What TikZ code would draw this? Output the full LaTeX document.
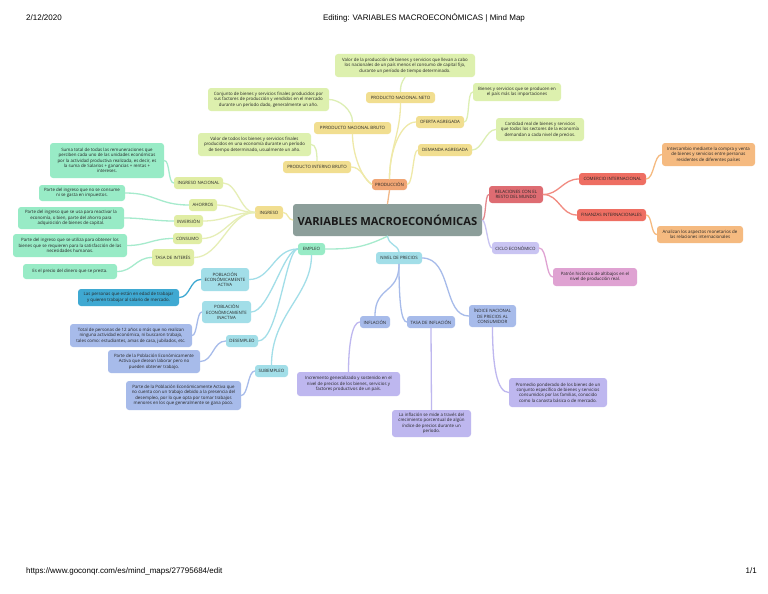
\documentclass[tikz,border=0pt]{standalone}
\usepackage{fontspec}
\setmainfont{Open Sans}
\newfontfamily\hdfont{Liberation Sans}
\definecolor{cCentral}{HTML}{8C9E9A}
\definecolor{cProd}{HTML}{F0A574}
\definecolor{cYel}{HTML}{F1DE90}
\definecolor{cLime}{HTML}{DDF0AE}
\definecolor{cOrg}{HTML}{F5BA80}
\definecolor{cRedA}{HTML}{DE6C72}
\definecolor{cRedB}{HTML}{EE6E62}
\definecolor{cLil}{HTML}{C9C4F2}
\definecolor{cPink}{HTML}{DFA2D2}
\definecolor{cMint}{HTML}{98EBC6}
\definecolor{cLimeB}{HTML}{E0EDA4}
\definecolor{cCyan}{HTML}{A2DEE8}
\definecolor{cBlue}{HTML}{3FA9D2}
\definecolor{cPeri}{HTML}{A7BBEA}
\definecolor{cVio}{HTML}{BEB7EF}
\definecolor{lYel}{HTML}{EFE9A8}
\definecolor{lOrg}{HTML}{F2B888}
\definecolor{lLime}{HTML}{E6EEB6}
\definecolor{lMint}{HTML}{A6EBCD}
\definecolor{lLeaf}{HTML}{DDEFB4}
\tikzset{
  mapbox/.style={rounded corners=3pt,inner sep=0pt,align=center,text=black!85,
    font=\fontsize{4.4}{5.4}\selectfont},
  link/.style={line width=1.3pt,line cap=round},
  hdtext/.style={font=\hdfont\fontsize{8}{9}\selectfont,inner sep=0pt,text=black},
}
\newcommand{\bx}[7]{\node[mapbox,fill=#6,minimum width={(#4-#2)*1pt},minimum height={(#5-#3)*1pt}] (#1) at ({(#2+#4)/2},{(#3+#5)/2}) {#7};}
\begin{document}
\begin{tikzpicture}[x=1pt,y=-1pt]
\useasboundingbox (0,0) rectangle (768,594);
\fill[white] (0,0) rectangle (768,594);
% page furniture
\node[hdtext,anchor=west] (date) at (26,18) {2/12/2020};
\node[hdtext] (title) at (424,18) {Editing: VARIABLES MACROECONÓMICAS | Mind Map};
\node[hdtext,anchor=west] (url) at (26,571) {https://www.goconqr.com/es/mind\_maps/27795684/edit};
\node[hdtext,anchor=east] (pg) at (757,571) {1/1};
% nodes
\node[rounded corners=3pt,fill=cCentral,inner sep=0pt,minimum width=189pt,minimum height=32pt,font=\fontsize{11.2}{13}\selectfont\bfseries,text=black!90] (root) at (387.5,220) {VARIABLES MACROECONÓMICAS};
\bx{prod}{372}{179}{407}{190}{cProd}{PRODUCCIÓN}
\bx{pnn}{366}{92}{435}{103}{cYel}{PRODUCTO NACIONAL NETO}
\bx{pnnL}{335}{54}{475}{77}{cLime}{Valor de la producción de bienes y servicios que llevan a cabo\\los nacionales de un país menos el consumo de capital fijo,\\durante un período de tiempo determinado.}
\bx{pnb}{314}{122}{391}{134}{cYel}{PPRODUCTO NACIONAL BRUTO}
\bx{pnbL}{208}{88}{329}{111}{cLime}{Conjunto de bienes y servicios finales producidos por\\sus factores de producción y vendidos en el mercado\\durante un período dado, generalmente un año.}
\bx{pib}{283}{161}{351}{173}{cYel}{PRODUCTO INTERNO BRUTO}
\bx{pibL}{198}{133}{311}{156}{cLime}{Valor de todos los bienes y servicios finales\\producidos en una economía durante un período\\de tiempo determinado, usualmente un año.}
\bx{oa}{416}{116}{464}{128}{cYel}{OFERTA AGREGADA}
\bx{oaL}{473}{83}{561}{101}{cLime}{Bienes y servicios que se producen en\\el país más las importaciones}
\bx{da}{418}{144}{472}{156}{cYel}{DEMANDA AGREGADA}
\bx{daL}{496}{118}{584}{141}{cLime}{Cantidad real de bienes y servicios\\que todos los sectores de la economía\\demandan a cada nivel de precios.}
\bx{rel}{489}{186}{543}{203}{cRedA}{RELACIONES CON EL\\RESTO DEL MUNDO}
\bx{com}{579}{173}{646}{185}{cRedB}{COMERCIO INTERNACIONAL}
\bx{comL}{662}{143}{755}{166}{cOrg}{Intercambio mediante la compra y venta\\de bienes y servicios entre personas\\residentes de diferentes países}
\bx{fin}{577}{209}{646}{221}{cRedB}{FINANZAS INTERNACIONALES}
\bx{finL}{657}{226}{743}{243}{cOrg}{Analizan los aspectos monetarios de\\las relaciones internacionales}
\bx{cic}{492}{242}{539}{254}{cLil}{CICLO ECONÓMICO}
\bx{cicL}{553}{268}{637}{286}{cPink}{Patrón histórico de altibajos en el\\nivel de producción real.}
\bx{ing}{255}{206}{283}{219}{cYel}{INGRESO}
\bx{ingN}{174}{177}{223}{189}{cLimeB}{INGRESO NACIONAL}
\bx{aho}{189}{199}{217}{211}{cLimeB}{AHORROS}
\bx{inv}{174}{215}{203}{227}{cLimeB}{INVERSIÓN}
\bx{con}{173}{233}{202}{244}{cLimeB}{CONSUMO}
\bx{tas}{152}{249}{194}{266}{cLimeB}{TASA DE INTERÉS}
\bx{ingNL}{50}{143}{164}{178}{cMint}{Suma total de todas las remuneraciones que\\perciben cada uno de las unidades económicas\\por la actividad productiva realizada, es decir, es\\la suma de Salarios + ganancias + rentas +\\intereses.}
\bx{ahoL}{39}{185}{125}{201}{cMint}{Parte del ingreso que no se consume\\ni se gasta en impuestos.}
\bx{invL}{18}{207}{124}{229}{cMint}{Parte del ingreso que se usa para reactivar la\\economía, o bien, parte del ahorro para\\adquisición de bienes de capital.}
\bx{conL}{13}{234}{127}{257}{cMint}{Parte del ingreso que se utiliza para obtener los\\bienes que se requieren para la satisfacción de las\\necesidades humanas.}
\bx{tasL}{23}{264}{117}{279}{cMint}{Es el precio del dinero que se presta.}
\bx{emp}{298}{243}{325}{255}{cMint}{EMPLEO}
\bx{pea}{201}{268}{249}{291}{cCyan}{POBLACIÓN\\ECONÓMICAMENTE\\ACTIVA}
\bx{peaL}{78}{289}{179}{306}{cBlue}{Las personas que están en edad de trabajar\\y quieren trabajar al salario de mercado.}
\bx{pei}{202}{301}{251}{323}{cCyan}{POBLACIÓN\\ECONÓMICAMENTE\\INACTIVA}
\bx{peiL}{70}{324}{192}{347}{cPeri}{Total de personas de 12 años o más que no realizan\\ninguna actividad económica, ni buscaron trabajo,\\tales como: estudiantes, amas de casa, jubilados, etc.}
\bx{des}{226}{335}{258}{347}{cCyan}{DESEMPLEO}
\bx{desL}{108}{350}{200}{373}{cPeri}{Parte de la Población Económicamente\\Activa que desean laborar pero no\\pueden obtener trabajo.}
\bx{sub}{255}{365}{288}{377}{cCyan}{SUBEMPLEO}
\bx{subL}{126}{381}{241}{410}{cPeri}{Parte de la Población Económicamente Activa que\\no cuenta con un trabajo debido a la presencia del\\desempleo, por lo que opta por tomar trabajos\\menores en los que generalmente se gana poco.}
\bx{niv}{376}{252}{422}{264}{cCyan}{NIVEL DE PRECIOS}
\bx{inf}{360}{316}{390}{328}{cPeri}{INFLACIÓN}
\bx{infL}{297}{372}{400}{396}{cVio}{Incremento generalizado y sostenido en el\\nivel de precios de los bienes, servicios y\\factores productivos de un país.}
\bx{tin}{407}{316}{455}{328}{cPeri}{TASA DE INFLACIÓN}
\bx{tinL}{392}{410}{471}{437}{cVio}{La inflación se mide a través del\\crecimiento porcentual de algún\\índice de precios durante un\\período.}
\bx{ipc}{469}{305}{516}{327}{cPeri}{ÍNDICE NACIONAL\\DE PRECIOS AL\\CONSUMIDOR}
\bx{ipcL}{509}{378}{607}{407}{cVio}{Promedio ponderado de los bienes de un\\conjunto específico de bienes y servicios\\consumidos por las familias, conocido\\como la canasta básica o de mercado.}
% connectors: upper branch
\draw[link,lOrg] (root.north) -- (prod.south);
\draw[link,lYel] (prod.north) .. controls +(0,-30) and +(0,30) .. (pnn.south);
\draw[link,lLeaf] (pnn.north) .. controls +(0,-6) and +(-4,6) .. (pnnL.south);
\draw[link,lYel] (prod.west) .. controls +(-10,-6) and +(0,20) .. (pnb.south);
\draw[link,lYel] (pib.east) .. controls +(10,0) and +(-8,-6) .. (prod.west);
\draw[link,lLeaf] (pnb.north) .. controls +(0,-12) and +(10,0) .. (pnbL.east);
\draw[link,lLeaf] (pib.north) .. controls +(0,-8) and +(5,0) .. (pibL.east);
\draw[link,lYel] (prod.north) .. controls +(0,-30) and +(-14,0) .. (oa.west);
\draw[link,lYel] (prod.east) .. controls +(6,0) and +(-5,0) .. (da.west);
\draw[link,lLeaf] (oa.east) .. controls +(6,0) and +(-6,0) .. (oaL.west);
\draw[link,lLeaf] (da.east) .. controls +(10,0) and +(-10,0) .. (daL.west);
% right branch
\draw[link,cRedA!80!white] (root.east) .. controls +(4,0) and +(-4,0) .. (rel.west);
\draw[link,cRedB!80!white] (rel.east) .. controls +(16,0) and +(-16,0) .. (com.west);
\draw[link,cRedB!80!white] (rel.east) .. controls +(16,0) and +(-16,0) .. (fin.west);
\draw[link,cOrg] (com.east) .. controls +(8,0) and +(-8,0) .. (comL.west);
\draw[link,cOrg] (fin.east) .. controls +(6,0) and +(-6,0) .. (finL.west);
\draw[link,cLil] (root.east) .. controls +(4,0) and +(-4,0) .. (cic.west);
\draw[link,cPink] (cic.east) .. controls +(8,0) and +(-7,0) .. (cicL.west);
% left branch
\draw[link,lYel] (root.west) .. controls +(-5,0) and +(5,0) .. (ing.east);
\draw[link,lLime] (ing.west) .. controls +(-14,0) and +(14,0) .. (ingN.east);
\draw[link,lLime] (ing.west) .. controls +(-14,0) and +(14,0) .. (aho.east);
\draw[link,lLime] (ing.west) .. controls +(-22,0) and +(22,0) .. (inv.east);
\draw[link,lLime] (ing.west) .. controls +(-22,0) and +(22,0) .. (con.east);
\draw[link,lLime] (ing.west) .. controls +(-26,0) and +(26,0) .. (tas.east);
\draw[link,lMint] (ingN.west) .. controls +(-6,0) and +(6,0) .. (ingNL.east);
\draw[link,lMint] (aho.west) .. controls +(-30,0) and +(30,0) .. (ahoL.east);
\draw[link,lMint] (inv.west) .. controls +(-20,0) and +(20,0) .. (invL.east);
\draw[link,lMint] (con.west) .. controls +(-20,0) and +(20,0) .. (conL.east);
\draw[link,lMint] (tas.west) .. controls +(-16,0) and +(16,0) .. (tasL.east);
% employment
\draw[link,lMint] (root.south) .. controls +(-25,12) and +(25,0) .. (emp.east);
\draw[link,cCyan] (emp.west) .. controls +(-24,0) and +(22,0) .. (pea.east);
\draw[link,cCyan] (emp.west) .. controls +(-14,0) and +(18,0) .. (pei.east);
\draw[link,cCyan] (emp.west) .. controls +(-12,0) and +(20,0) .. (des.east);
\draw[link,cCyan] (emp.south) .. controls +(0,40) and +(0,-50) .. (sub.north);
\draw[link,cBlue] (pea.west) .. controls +(-11,0) and +(11,0) .. (peaL.east);
\draw[link,cPeri] (pei.west) .. controls +(-5,0) and +(5,0) .. (peiL.east);
\draw[link,cPeri] (des.west) .. controls +(-13,0) and +(13,0) .. (desL.east);
\draw[link,cPeri] (sub.west) .. controls +(-7,0) and +(7,0) .. (subL.east);
% prices
\draw[link,cCyan] (root.south) .. controls +(2,10) and +(-2,-8) .. (niv.north);
\draw[link,cPeri] (niv.south) .. controls +(0,30) and +(0,-30) .. (inf.north);
\draw[link,cPeri] (niv.south) .. controls +(0,34) and +(-6,0) .. (tin.west);
\draw[link,cPeri] (niv.east) .. controls +(30,0) and +(-26,0) .. (ipc.west);
\draw[link,cVio] (inf.west) .. controls +(-8,0) and +(0,-25) .. (infL.north);
\draw[link,cVio] (tin.south) -- (tinL.north);
\draw[link,cVio] (ipc.south) .. controls +(0,38) and +(-12,0) .. (ipcL.west);
\end{tikzpicture}
\end{document}
